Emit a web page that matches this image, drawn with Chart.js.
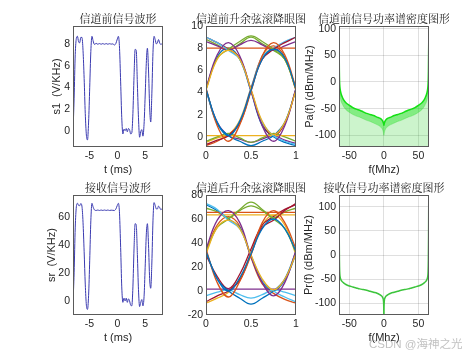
<!DOCTYPE html>
<html><head><meta charset="utf-8">
<script src="https://cdn.jsdelivr.net/npm/chart.js@4.4.1/dist/chart.umd.min.js"></script>
<style>
html,body{margin:0;padding:0;background:#fff;}
body{width:474px;height:355px;position:relative;overflow:hidden;}
canvas{position:absolute;}
#wm{position:absolute;left:369px;top:337px;line-height:14px;font-size:11.5px;font-family:"Liberation Sans","Noto Sans CJK SC",sans-serif;color:rgba(150,150,150,0.6);white-space:nowrap;}
</style></head><body>
<canvas id="c11" width="152" height="177" style="left:23px;top:0px"></canvas>
<canvas id="c12" width="142" height="177" style="left:166px;top:0px"></canvas>
<canvas id="c13" width="160" height="177" style="left:289px;top:0px"></canvas>
<canvas id="c21" width="152" height="176" style="left:23px;top:169px"></canvas>
<canvas id="c22" width="142" height="176" style="left:166px;top:169px"></canvas>
<canvas id="c23" width="160" height="176" style="left:289px;top:169px"></canvas>
<div id="wm">CSDN @海神之光</div>
<script>
// ---------- data ----------
const titles = ['信道前信号波形','信道前升余弦滚降眼图','信道前信号功率谱密度图形','接收信号波形','信道后升余弦滚降眼图','接收信号功率谱密度图形'];

const tMs = [-7.95,-7.75,-7.55,-7.35,-7.15,-6.95,-6.75,-6.55,-6.35,-6.15,-5.95,-5.75,-5.55,-5.35,-5.15,-4.95,-4.75,-4.55,-4.35,-4.1,-3.8,-3.5,-3.2,-2.9,-2.6,-2.3,-2.0,-1.7,-1.4,-1.1,-0.8,-0.5,-0.25,0.0,0.2,0.4,0.6,0.8,1.0,1.2,1.4,1.6,1.8,2.0,2.2,2.4,2.6,2.8,3.0,3.2,3.4,3.6,3.8,4.0,4.2,4.4,4.6,4.8,5.0,5.2,5.4,5.6,5.8,6.0,6.2,6.4,6.6,6.8,7.0,7.2,7.4,7.6,7.8,8.0,8.2];
const s1 = [-0.2,3.0,7.0,8.5,8.7,8.2,8.1,8.6,8.6,7.4,4.8,1.6,-0.4,-0.85,0.8,4.0,7.3,8.7,8.3,7.95,8.05,7.97,8.03,7.97,8.03,7.97,8.03,7.97,8.02,7.98,8.0,7.9,8.05,8.45,8.7,7.6,4.5,1.2,-0.3,0.15,0.0,0.2,-0.1,0.2,0.1,-0.3,-0.2,1.6,5.0,7.5,7.4,4.3,1.2,-0.6,-0.1,0.1,-0.5,0.6,3.2,6.2,7.6,5.6,2.2,0.8,3.4,7.2,8.7,8.4,8.0,8.1,8.4,8.1,7.95,8.0,8.0];
const sr = [-2,20,52,67,69.5,68,67.8,69.3,67.5,56,35,12,-3,-6,4,29,57,69.5,67,64.8,64.4,64.7,64.4,64.7,64.4,64.7,64.4,64.7,64.4,64.6,64.5,64.4,65.5,68,69.5,62,38,10,-1,2,0,2,-1,1.5,0,-3,-3.5,10,37,55,54,33,8,-4,-1,1,-3.5,3,24,47,55,40,16,9,27,57,70,68,65.5,65.5,67.5,66.5,65,65.5,66];

const eyeX = [0,0.125,0.25,0.375,0.5,0.625,0.75,0.875,1];
const eyeTop = [
  [4.3,1.3,0.1,1.4,4.2,7.0,7.9,7.1,4.3],
  [4.4,1.0,-0.4,1.1,4.1,7.3,8.5,7.4,4.4],
  [4.2,7.0,7.8,7.0,4.3,1.4,0.2,1.3,4.2],
  [4.4,7.4,8.5,7.3,4.2,1.0,-0.4,1.0,4.4],
  [4.3,7.1,7.9,8.6,9.1,8.6,7.9,7.0,4.3],
  [9.0,8.5,7.8,7.0,4.2,1.3,0.1,-0.4,-0.7],
  [-0.7,-0.3,0.1,1.3,4.3,7.0,7.9,8.5,9.0],
  [4.3,1.2,0.1,-0.4,-0.8,-0.4,0.1,1.3,4.3],
  [8.0,8.0,8.0,8.0,8.0,8.0,8.0,8.0,8.0],
  [0.1,0.1,0.1,0.1,0.1,0.1,0.1,0.1,0.1],
  [8.6,8.2,7.8,8.3,8.7,8.3,7.8,8.2,8.6],
  [-0.4,0.0,0.3,-0.1,-0.5,-0.1,0.3,0.0,-0.4],
  [4.2,1.2,0.2,1.4,4.4,7.2,8.0,8.6,9.0],
  [9.0,8.5,7.9,7.1,4.2,1.2,0.1,1.2,4.3],
  [4.3,7.2,8.0,7.0,4.1,1.0,0.0,-0.5,-0.8],
  [-0.8,-0.4,0.2,1.2,4.2,7.3,8.2,7.2,4.2],
  [-0.5,-0.1,0.2,1.5,4.4,7.1,7.9,7.0,4.2],
  [4.2,1.3,0.1,-0.2,-0.5,-0.2,0.1,-0.3,-0.6],
  [8.8,8.3,7.8,8.4,9.0,8.4,7.8,7.0,4.3]
];
const eyeBot = [
  [33,10,0,11,31,52,60,52,33],
  [35,7,-5,8,30,57,67,57,35],
  [31,53,59,52,30,10,1,10,31],
  [35,59,67,57,29,7,-4,7,34],
  [33,53,60,68,74,68,60,52,32],
  [73,68,59,52,30,9,0,-5,-9],
  [-9,-4,0,9,31,53,59,67,73],
  [33,10,0,-6,-11,-6,0,10,33],
  [65.5,65.5,65.5,65.5,65.5,65.5,65.5,65.5,65.5],
  [63.5,63.5,63.5,63.5,63.5,63.5,63.5,63.5,63.5],
  [1.5,1.5,1.5,1.5,1.5,1.5,1.5,1.5,1.5],
  [69,66,61,67,71,67,61,66,69],
  [-4,-1,1,-3,-6,-3,1,-1,-4],
  [30,12,2,14,35,55,62,68,72],
  [72,67,60,53,29,8,0,9,31],
  [34,55,62,54,28,6,-2,-7,-10],
  [-10,-6,-1,10,32,55,63,55,30]
];

const fA = [-65,-64.8,-64.5,-64.2,-63.8,-63,-62,-60,-58,-55,-50,-45,-40,-35,-30,-25,-20,-15,-10,-6,-3,-1.5,-0.5,0,0.5,1.5,3,6,10,15,20,25,30,35,40,45,50,55,58,60,62,63,63.8,64.2,64.5,64.8,65.3];
const paUpper = [110,60,20,2,-8,-16,-22,-29,-34,-39,-44,-48,-51,-53,-56,-59,-61,-63,-66,-68,-71,-74,-78,-81,-78,-74,-71,-68,-66,-63,-61,-59,-56,-53,-51,-48,-44,-39,-34,-29,-22,-16,-8,2,20,60,110];
const paInner = [100,40,0,-14,-22,-30,-36,-42,-47,-52,-57,-61,-64,-66,-69,-72,-74,-77,-80,-83,-87,-91,-96,-100,-96,-91,-87,-83,-80,-77,-74,-72,-69,-66,-64,-61,-57,-52,-47,-42,-36,-30,-22,-14,0,40,100];

const fB = [-65,-64.9,-64.7,-64.4,-64,-63.5,-62.5,-61,-58,-55,-50,-45,-40,-35,-30,-25,-20,-15,-10,-6,-3,-1.5,-0.6,-0.2,0,0.2,0.6,1.5,3,6,10,15,20,25,30,35,40,45,50,55,58,61,62.5,63.5,64,64.4,64.7,64.9,65.3];
const pr = [130,100,40,-10,-35,-44,-50,-54,-58,-61,-64,-66,-68,-70,-71.5,-73,-75,-77,-79,-82,-85,-89,-95,-108,-135,-108,-95,-89,-85,-82,-79,-77,-75,-73,-71.5,-70,-68,-66,-64,-61,-58,-54,-50,-44,-35,-10,40,100,130];

const tickT = [-5,0,5];
const tickS1 = [0,2,4,6,8];
const tickSr = [0,20,40,60];
const tickEyeX = [0,0.5,1];
const tickEyeTop = [0,2,4,6,8,10];
const tickEyeBot = [-20,0,20,40,60,80];
const tickF = [-50,0,50];
const tickP = [-100,-50,0,50,100];

// ---------- drawing ----------
const SANS = '"Liberation Sans", Arial, sans-serif';
const CJK = '"Noto Serif CJK SC","Noto Sans CJK SC",serif';
const GRID = 'rgba(38,38,38,0.15)';
const MCOL = ['#0072BD','#D95319','#EDB120','#7E2F8E','#77AC30','#4DBEEE','#A2142F'];
const pts = (xs, ys) => xs.map((x,i)=>({x:x, y:ys[i]}));

const boxPlugin = {id:'box', afterDraw(chart, args, opts){
  const c = chart.ctx, a = chart.chartArea;
  c.save(); c.strokeStyle = '#5a5a5a'; c.lineWidth = 1;
  c.strokeRect(Math.round(a.left)+0.5, Math.round(a.top)+0.5, Math.round(a.right-a.left)-1, Math.round(a.bottom-a.top)-1);
  c.fillStyle = '#1a1a1a'; c.font = '11px ' + CJK; c.textAlign = 'center'; c.textBaseline = 'middle';
  c.fillText(chart.options.plugins.box.text, (a.left+a.right)/2, a.top - 7.5);
  c.restore();
}};

function mk(id, o){
  return new Chart(document.getElementById(id), {
    type:'line',
    data:{datasets:o.datasets},
    options:{
      responsive:false, animation:false, devicePixelRatio:1,
      layout:{padding:{left:0,right:o.R,top:26,bottom:0}},
      plugins:{legend:{display:false}, tooltip:{enabled:false}, title:{display:false}, box:{text:o.title}},
      elements:{point:{radius:0}, line:{borderWidth:1, fill:false}},
      scales:{
        x:{type:'linear', min:o.xMin, max:o.xMax,
          afterBuildTicks:s=>{s.ticks=o.xTicks.map(v=>({value:v}));},
          afterFit:s=>{s.height=o.B;},
          ticks:{color:'#262626', font:{family:SANS,size:10.5}, padding:3, maxRotation:0, autoSkip:false, callback:v=>String(v)},
          grid:{display:!!o.grid, drawTicks:false, color:GRID, lineWidth:1},
          border:{display:false},
          title:{display:!!o.xTitle, text:o.xTitle||'', color:'#262626', font:{family:SANS,size:11}, padding:{top:0,bottom:0.4}}},
        y:{type:'linear', min:o.yMin, max:o.yMax,
          afterBuildTicks:s=>{s.ticks=o.yTicks.map(v=>({value:v}));},
          afterFit:s=>{s.width=o.L;},
          ticks:{color:'#262626', font:{family:SANS,size:10.5}, padding:3, autoSkip:false, callback:v=>String(v)},
          grid:{display:!!o.grid, drawTicks:false, color:GRID, lineWidth:1},
          border:{display:false},
          title:{display:!!o.yTitle, text:o.yTitle||'', color:'#262626', font:{family:SANS,size:11}, padding:{top:o.yPad||0,bottom:0}}}
      }
    },
    plugins:[boxPlugin]
  });
}

const WAVE = '#3a3ab0';
mk('c11',{title:titles[0], L:50, R:12, B:30, xMin:-7.95, xMax:8.2, yMin:-1.5, yMax:9.65, xTicks:tickT, yTicks:tickS1,
  xTitle:'t (ms)', yTitle:'s1  (V/KHz)', yPad:27,
  datasets:[{data:pts(tMs,s1), borderColor:WAVE, borderWidth:1, cubicInterpolationMode:'monotone'}]});
mk('c21',{title:titles[3], L:50, R:12, B:30, xMin:-7.95, xMax:8.2, yMin:-10, yMax:75.4, xTicks:tickT, yTicks:tickSr,
  xTitle:'t (ms)', yTitle:'sr  (V/KHz)', yPad:22,
  datasets:[{data:pts(tMs,sr), borderColor:WAVE, borderWidth:1, cubicInterpolationMode:'monotone'}]});

mk('c12',{title:titles[1], L:40, R:12, B:30, xMin:0, xMax:1, yMin:-0.92, yMax:10, xTicks:tickEyeX, yTicks:tickEyeTop,
  datasets:eyeTop.map((tr,i)=>({data:pts(eyeX,tr), borderColor:MCOL[i%7], borderWidth:1.3, tension:0.4}))});
mk('c22',{title:titles[4], L:40, R:12, B:30, xMin:0, xMax:1, yMin:-20, yMax:80, xTicks:tickEyeX, yTicks:tickEyeBot,
  datasets:eyeBot.map((tr,i)=>({data:pts(eyeX,tr), borderColor:MCOL[i%7], borderWidth:1.3, tension:0.4}))});

mk('c13',{title:titles[2], L:50, R:20, B:30, xMin:-65, xMax:65.3, yMin:-122, yMax:105, xTicks:tickF, yTicks:tickP, grid:true,
  xTitle:'f(Mhz)', yTitle:'Pa(f) (dBm/MHz)', yPad:14.4,
  datasets:[
    {data:pts(fA,paUpper), borderColor:'#14e014', borderWidth:1.5, fill:'+1', backgroundColor:'rgba(30,220,30,0.55)', cubicInterpolationMode:'monotone'},
    {data:pts(fA,paInner), borderColor:'rgba(40,210,40,0.4)', borderWidth:0.8, fill:'start', backgroundColor:'rgba(40,210,40,0.24)', cubicInterpolationMode:'monotone'}
  ]});
mk('c23',{title:titles[5], L:50, R:20, B:30, xMin:-65, xMax:65.3, yMin:-124, yMax:124, xTicks:tickF, yTicks:tickP, grid:true,
  xTitle:'f(Mhz)', yTitle:'Pr(f) (dBm/MHz)', yPad:13.7,
  datasets:[{data:pts(fB,pr), borderColor:'#3cc43c', borderWidth:1.5, cubicInterpolationMode:'monotone'}]});
</script>
</body></html>
